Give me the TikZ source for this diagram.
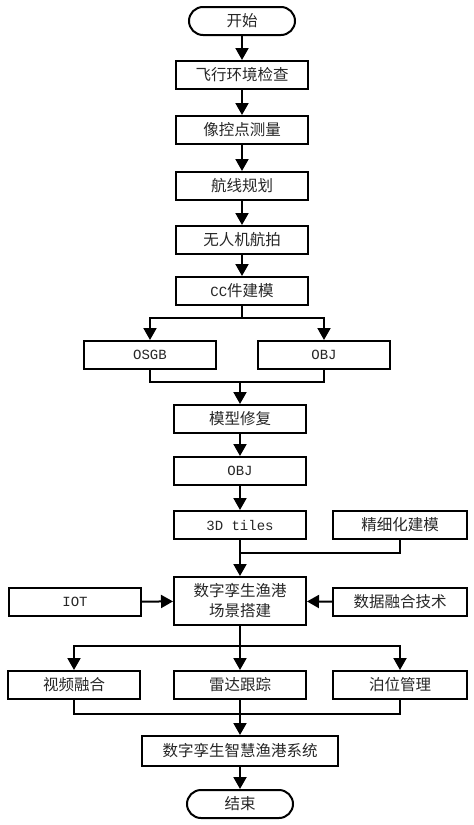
\documentclass[tikz,border=0pt]{standalone}
\usepackage{fontspec}
\usetikzlibrary{arrows.meta}
\newfontfamily\cjk{Noto Sans CJK SC}
\newfontfamily\latn{Liberation Mono}

\begin{document}
\begin{tikzpicture}[x=1pt, y=-1pt,
    box/.style={draw, line width=2pt, minimum width=132pt, minimum height=28pt,
        inner sep=0pt, font=\cjk\fontsize{15.5}{20}\selectfont, text=black!85},
    endbox/.style={box, minimum width=106pt, rounded corners=14pt},
    latbox/.style={box, font=\latn\fontsize{14}{16}\selectfont},
    line/.style={line width=2pt},
    arrow/.style={line, -{Triangle[length=12pt, width=13pt]}}]
    \useasboundingbox (0,0) rectangle (474,825);

    % Draw the main chain at the top
    \node[endbox] (start) at (242,21) {开始};
    \node[box] (check) at (242,75) {飞行环境检查};
    \node[box] (ctrl) at (242,130) {像控点测量};
    \node[box] (route) at (242,186) {航线规划};
    \node[box] (uav) at (242,240) {无人机航拍};
    \node[box] (cc) at (242,291) {{\latn\fontsize{14}{16}\selectfont CC}件建模};
    \foreach \a/\b in {start/check, check/ctrl, ctrl/route, route/uav, uav/cc} {
        \draw[arrow] (\a) -- (\b);
    }

    % Draw the two export formats
    \node[latbox] (osgb) at (150,355) {OSGB};
    \node[latbox] (objA) at (324,355) {OBJ};
    \coordinate (split1) at (242,318);
    \draw[line] (cc) -- (split1);
    \draw[arrow] (split1) -| (osgb);
    \draw[arrow] (split1) -| (objA);

    % Draw the repair steps
    \node[box] (repair) at (240,419) {模型修复};
    \node[latbox] (objB) at (240,471) {OBJ};
    \node[latbox] (tiles) at (240,525) {3D tiles};
    \node[box, minimum width=134pt] (fine) at (400,525) {精细化建模};
    \coordinate (merge1) at (240,382);
    \draw[line] (osgb) |- (merge1);
    \draw[line] (objA) |- (merge1);
    \draw[arrow] (merge1) -- (repair);
    \draw[arrow] (repair) -- (objB);
    \draw[arrow] (objB) -- (tiles);

    % Draw the scene with its inputs
    \node[box, minimum height=48pt, align=center] (scene) at (240,601) {数字孪生渔港\\场景搭建};
    \node[latbox] (iot) at (75,602) {IOT};
    \node[box, minimum width=134pt] (fusion) at (400,602) {数据融合技术};
    \coordinate (merge2) at (240,553);
    \draw[line] (tiles) -- (merge2);
    \draw[line] (fine) |- (merge2);
    \draw[arrow] (merge2) -- (scene);
    \draw[arrow] (iot) -- (scene);
    \draw[arrow] (fusion) -- (scene);

    % Draw the three applications
    \node[box] (video) at (74,685) {视频融合};
    \node[box] (radar) at (240,685) {雷达跟踪};
    \node[box, minimum width=134pt] (berth) at (400,685) {泊位管理};
    \coordinate (split2) at (240,646);
    \coordinate (merge3) at (240,714);
    \draw[line] (scene) -- (split2);
    \foreach \n in {video, radar, berth} {
        \draw[arrow] (split2) -| (\n);
        \draw[line] (\n) |- (merge3);
    }

    % Draw the system and the end
    \node[box, minimum width=196pt, minimum height=30pt] (system) at (240,751) {数字孪生智慧渔港系统};
    \node[endbox] (stop) at (240,804) {结束};
    \draw[arrow] (merge3) -- (system);
    \draw[arrow] (system) -- (stop);
\end{tikzpicture}
\end{document}
